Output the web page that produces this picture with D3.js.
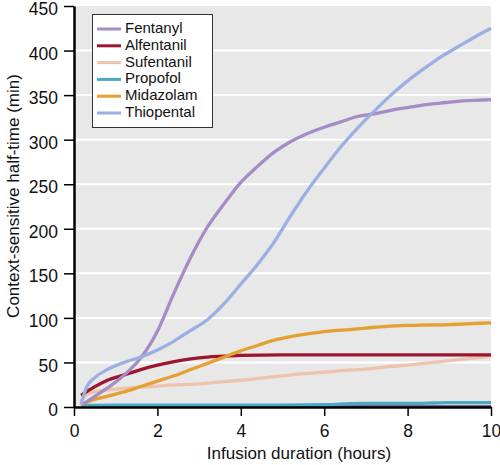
<html>
<head>
	<meta charset='utf-8' />
	<title>Context-sensitive half-time</title>
	<script src="https://cdn.jsdelivr.net/npm/d3@7"></script>
	<style>
	body { margin: 0; background: #fff; }
	text { font-family: "Liberation Sans", Arial, sans-serif; fill: #111; }
	</style>
</head>
<body>
<script>

	// values, [hours, minutes]
	var fentanyl = [[0.17,2],[0.5,12],[1.0,28],[1.3,40],[1.6,55],[2.0,85],[2.4,128],[2.8,168],[3.2,202],[3.6,228],[4.0,252],[4.4,270],[4.8,286],[5.2,298],[5.6,307],[6.0,314],[6.4,320],[6.8,326],[7.2,329],[7.6,333],[8.0,336],[8.4,339],[8.8,341],[9.2,343],[9.6,344],[10,345]];
	var alfentanil = [[0.17,13],[0.4,20],[0.8,30],[1.2,36],[1.6,42],[2.0,47],[2.4,51],[2.8,54],[3.2,56],[3.6,57],[4.0,58],[5,58.5],[6,58.5],[7,58.5],[8,58.5],[9,58.5],[10,58.5]];
	var sufentanil = [[0.17,6],[0.3,14],[0.6,18],[1.0,20],[1.5,22],[2.0,23.5],[2.5,25],[3.0,26],[3.5,28],[4.0,30],[4.5,32.5],[5.0,35],[5.5,37.5],[6.0,39],[6.5,41],[7.0,42.5],[7.5,45],[8.0,47],[8.5,49.5],[9.0,52],[9.5,54.5],[10,57]];
	var propofol = [[0.17,1.5],[1,2],[2,2],[3,2],[4,2],[5,2],[6,2.5],[6.5,3.5],[7,4],[8,4],[8.6,4.5],[9,5],[10,5]];
	var midazolam = [[0.17,2],[0.4,7],[0.8,12],[1.2,17],[1.6,23],[2.0,29],[2.4,35],[2.8,42],[3.2,49],[3.6,56],[4.0,63],[4.4,69],[4.8,75],[5.2,79],[5.6,82],[6.0,84.5],[6.5,86.5],[7.0,88.5],[7.5,90.5],[8.0,91.5],[8.5,92],[9.0,92.5],[9.5,93.5],[10,94.5]];
	var thiopental = [[0.17,3],[0.3,22],[0.5,33],[0.8,42],[1.2,50],[1.6,56],[2.0,64],[2.4,74],[2.8,86],[3.2,98],[3.6,116],[4.0,138],[4.4,160],[4.8,185],[5.2,215],[5.6,243],[6.0,268],[6.4,292],[6.8,313],[7.2,332],[7.6,350],[8.0,366],[8.4,380],[8.8,393],[9.2,404],[9.6,415],[10,425]];
	// faint unlabeled trace hugging zero
	var baseTrace = [[0.2,0.8],[10,0.8]];

	var names = ["Fentanyl","Alfentanil","Sufentanil","Propofol","Midazolam","Thiopental"];
	var colors = ["#a68cc6","#9c1530","#eec3ae","#4aa8c5","#e4a030","#9aafe2"];
	var xTicks = [0,2,4,6,8,10];
	var yTicks = [0,50,100,150,200,250,300,350,400,450];

	var series = [fentanyl,alfentanil,sufentanil,propofol,midazolam,thiopental];

	var width = 500, height = 465;
	var x0 = 74, x1 = 491, y0 = 407, y1 = 6;

	var svg = d3.select("body").append("svg")
		.attr("width",width)
		.attr("height",height);

	var xScale = d3.scaleLinear().domain([0,10]).range([x0,x1]);
	var yScale = d3.scaleLinear().domain([0,450]).range([y0,y1]);

	// plot background
	svg.append("rect")
		.attr("x",x0).attr("y",y1)
		.attr("width",x1-x0).attr("height",y0-y1)
		.attr("fill","#e8e8e8");

	// white grid
	svg.selectAll(".grid").data(yTicks.filter(d=>d>0 && d<450)).enter()
		.append("line")
		.attr("x1",x0).attr("x2",x1)
		.attr("y1",d=>yScale(d)).attr("y2",d=>yScale(d))
		.attr("stroke","#fff")
		.attr("stroke-width",2);

	var line = d3.line()
		.x(d=>xScale(d[0]))
		.y(d=>yScale(d[1]))
		.curve(d3.curveMonotoneX);

	svg.append("path")
		.datum(baseTrace)
		.attr("d",line)
		.attr("fill","none")
		.attr("stroke","#5b3f80")
		.attr("stroke-width",2);

	// draw propofol first so others sit on top, like the reference
	var order = [3,2,1,4,0,5];
	order.forEach(function(i) {
		svg.append("path")
			.datum(series[i])
			.attr("d",line)
			.attr("fill","none")
			.attr("stroke",colors[i])
			.attr("stroke-width",3.3)
			.attr("stroke-linejoin","round");
	});

	// axes
	var yAxis = svg.append("g")
		.attr("transform","translate(" + x0 + ",0)")
		.call(d3.axisLeft(yScale).tickValues(yTicks).tickSize(10).tickPadding(6).tickSizeOuter(0));
	var xAxis = svg.append("g")
		.attr("transform","translate(0," + y0 + ")")
		.call(d3.axisBottom(xScale).tickValues(xTicks).tickSize(9).tickPadding(9).tickSizeOuter(0));

	[yAxis,xAxis].forEach(function(ax) {
		ax.select(".domain").attr("stroke","#000").attr("stroke-width",2.5);
		ax.selectAll(".tick line").attr("stroke","#000").attr("stroke-width",1.5);
		ax.selectAll(".tick text")
			.attr("font-family","'Liberation Sans', Arial, sans-serif")
			.attr("font-size","17.5px")
			.attr("fill","#111");
	});
	// labels sit a little below their ticks in the reference
	yAxis.selectAll(".tick text").attr("transform","translate(0,3)");

	// legend
	var lg = svg.append("g");
	lg.append("rect")
		.attr("x",92.5).attr("y",14.5)
		.attr("width",120).attr("height",113)
		.attr("fill","#fff")
		.attr("stroke","#333")
		.attr("stroke-width",1);

	names.forEach(function(n,i) {
		var cy = 29 + i*16.8;
		lg.append("line")
			.attr("x1",97).attr("x2",121)
			.attr("y1",cy).attr("y2",cy)
			.attr("stroke",colors[i])
			.attr("stroke-width",3);
		lg.append("text")
			.attr("x",125).attr("y",cy)
			.attr("dominant-baseline","middle")
			.attr("font-size","15px")
			.text(n);
	});

	// axis titles
	svg.append("text")
		.attr("x",299).attr("y",459)
		.attr("text-anchor","middle")
		.attr("font-size","17px")
		.text("Infusion duration (hours)");

	svg.append("text")
		.attr("transform","translate(19,196) rotate(-90)")
		.attr("text-anchor","middle")
		.attr("font-size","17px")
		.text("Context-sensitive half-time (min)");

</script>
</body>
</html>
